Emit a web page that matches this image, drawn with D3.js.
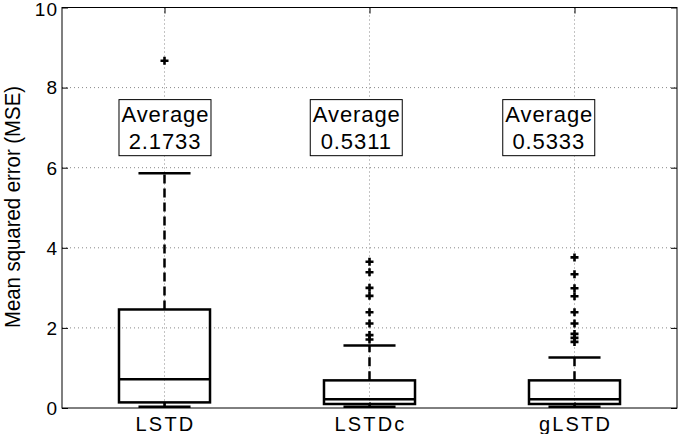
<!DOCTYPE html>
<html lang="en">
<head>
<meta charset="UTF-8">
<title>MSE boxplot</title>
<script src="https://cdn.jsdelivr.net/npm/d3@7"></script>
<style>
  body { margin: 0; background: #fff; }
  text { font-family: "Liberation Sans", Arial, sans-serif; fill: #000; }
  .grid line { stroke: #888; stroke-width: 1px; stroke-dasharray: 1,3; }
  .box { fill: none; stroke: #000; stroke-width: 2.5px; }
  .whisker { stroke: #000; stroke-width: 2.5px; stroke-dasharray: 9,5; }
  .cap, .median { stroke: #000; stroke-width: 2.5px; }
  .outlier { stroke: #000; stroke-width: 2.6px; }
</style>
</head>
<body>
<svg width="681" height="434"></svg>
<script>
// data
let categories = ['LSTD', 'LSTDc', 'gLSTD'];
let whiskerLow = [0.03, 0.03, 0.03];
let q1 = [0.14, 0.10, 0.10];
let medians = [0.72, 0.22, 0.22];
let q3 = [2.46, 0.69, 0.69];
let whiskerHigh = [5.86, 1.56, 1.26];
let outliers = [
  [8.67],
  [3.65, 3.39, 3.00, 2.80, 2.39, 2.11, 1.82, 1.71],
  [3.76, 3.34, 2.99, 2.79, 2.39, 2.11, 1.85, 1.75, 1.65]
];
let averages = ['2.1733', '0.5311', '0.5333'];
// where each "Average" note sits (left edge, data units)
let noteX = [0.778, 1.711, 2.650];
let noteTop = 7.7, noteBottom = 6.3;
let yTicks = [0, 2, 4, 6, 8, 10];

let svg = d3.select('svg');
let m = {left: 62, right: 677, top: 7.5, bottom: 408};

let x = d3.scaleLinear().domain([0.5, 3.5]).range([m.left, m.right]);
let y = d3.scaleLinear().domain([0, 10]).range([m.bottom, m.top]);
let pos = categories.map((c, i) => i + 1);

let boxHalf = 0.222;   // in x data units
let capHalf = 0.127;

// grid
let grid = svg.append('g').attr('class', 'grid');
grid.selectAll('line.h').data(yTicks.slice(1, -1)).join('line')
  .attr('x1', m.left).attr('x2', m.right)
  .attr('y1', d => y(d)).attr('y2', d => y(d));
grid.selectAll('line.v').data(pos).join('line')
  .attr('x1', d => x(d)).attr('x2', d => x(d))
  .attr('y1', m.top).attr('y2', m.bottom);

// axes (inside ticks, box frame)
svg.append('g').attr('transform', `translate(${m.left},0)`)
  .call(d3.axisRight(y).tickValues(yTicks).tickSize(6).tickFormat(''));
svg.append('g').attr('transform', `translate(${m.right},0)`)
  .call(d3.axisLeft(y).tickValues(yTicks).tickSize(6).tickFormat(''));
svg.append('g').attr('transform', `translate(0,${m.bottom})`)
  .call(d3.axisTop(x).tickValues(pos).tickSize(6).tickFormat(''));
svg.append('g').attr('transform', `translate(0,${m.top})`)
  .call(d3.axisBottom(x).tickValues(pos).tickSize(6).tickFormat(''));
svg.selectAll('.domain').remove();
svg.selectAll('.tick line').attr('stroke', '#000').attr('stroke-width', 1);
svg.append('rect')
  .attr('x', m.left).attr('y', m.top)
  .attr('width', m.right - m.left).attr('height', m.bottom - m.top)
  .attr('fill', 'none').attr('stroke', '#000').attr('stroke-width', 1);

// tick labels
svg.append('g').selectAll('text').data(yTicks).join('text')
  .attr('x', m.left - 4).attr('y', d => Math.max(y(d), 9))
  .attr('dy', '0.36em')
  .attr('text-anchor', 'end')
  .style('font-size', '19px').style('letter-spacing', '1px')
  .text(d => d);
svg.append('g').selectAll('text').data(categories).join('text')
  .attr('x', (d, i) => x(pos[i]) + 1).attr('y', 431)
  .attr('text-anchor', 'middle')
  .style('font-size', '20px').style('letter-spacing', '2.2px')
  .text(d => d);

// y label
svg.append('text')
  .attr('transform', 'translate(20,207) rotate(-90)')
  .attr('text-anchor', 'middle')
  .attr('textLength', 242).attr('lengthAdjust', 'spacingAndGlyphs')
  .style('font-size', '22px')
  .text('Mean squared error (MSE)');

// boxes
let g = svg.append('g');
pos.forEach((p, i) => {
  g.append('line').attr('class', 'whisker')
    .attr('x1', x(p)).attr('x2', x(p))
    .attr('y1', y(q3[i])).attr('y2', y(whiskerHigh[i]));
  g.append('line').attr('class', 'whisker')
    .attr('x1', x(p)).attr('x2', x(p))
    .attr('y1', y(q1[i])).attr('y2', y(whiskerLow[i]));
  [whiskerLow[i], whiskerHigh[i]].forEach(v => {
    g.append('line').attr('class', 'cap')
      .attr('x1', x(p - capHalf)).attr('x2', x(p + capHalf))
      .attr('y1', y(v)).attr('y2', y(v));
  });
  g.append('rect').attr('class', 'box')
    .attr('x', x(p - boxHalf)).attr('width', x(p + boxHalf) - x(p - boxHalf))
    .attr('y', y(q3[i])).attr('height', y(q1[i]) - y(q3[i]));
  g.append('line').attr('class', 'median')
    .attr('x1', x(p - boxHalf)).attr('x2', x(p + boxHalf))
    .attr('y1', y(medians[i])).attr('y2', y(medians[i]));
  // outliers as '+'
  g.selectAll(null).data(outliers[i]).join('path')
    .attr('class', 'outlier')
    .attr('d', d => `M${x(p) - 4},${y(d)}h8M${x(p)},${y(d) - 4}v8`);
});

// average notes
let notes = svg.append('g');
categories.forEach((c, i) => {
  let x0 = x(noteX[i]), w = 92;
  let y0 = y(noteTop), h = y(noteBottom) - y(noteTop);
  notes.append('rect')
    .attr('x', x0).attr('y', y0).attr('width', w).attr('height', h)
    .attr('fill', '#fff').attr('stroke', '#000').attr('stroke-width', 1);
  notes.append('text')
    .attr('x', x0 + w / 2 + 0.5).attr('y', y0 + 22.5)
    .attr('text-anchor', 'middle')
    .style('font-size', '22px').style('letter-spacing', '0.9px')
    .text('Average');
  notes.append('text')
    .attr('x', x0 + w / 2).attr('y', y0 + 49)
    .attr('text-anchor', 'middle')
    .style('font-size', '22px').style('letter-spacing', '0.9px')
    .text(averages[i]);
});
</script>
</body>
</html>
